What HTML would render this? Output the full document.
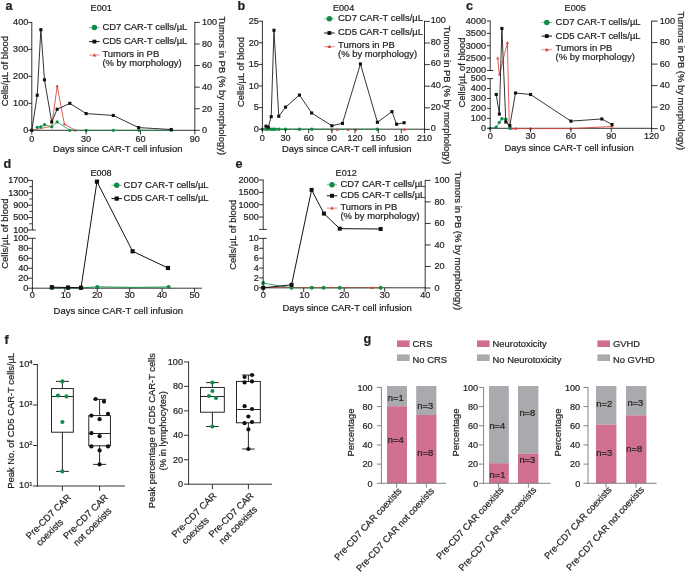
<!DOCTYPE html>
<html lang="en"><head><meta charset="utf-8"><title>Figure</title>
<style>html,body{margin:0;padding:0;background:#fff}svg{display:block}text{font-family:"Liberation Sans",Arial,Helvetica,sans-serif;stroke:#231f20;stroke-width:0.22px}</style></head>
<body>
<svg width="685" height="573" viewBox="0 0 685 573">
<rect x="0" y="0" width="685" height="573" fill="#ffffff"/>
<text x="5.6" y="9.6" font-size="12.6" font-weight="bold" fill="#231f20">a</text>
<text x="90.6" y="11.1" font-size="9.1" fill="#231f20">E001</text>
<line x1="31.4" y1="130.3" x2="195.2" y2="130.3" stroke="#111111" stroke-width="0.85"/>
<polyline points="31.8,130.3 37.23,129.22 40.86,128.68 44.48,127.6 51.72,126.42 57.16,86.06 64.4,124.15 75.27,130.3" fill="none" stroke="#d8433a" stroke-width="0.85" stroke-linejoin="miter"/>
<polygon points="51.72,124.69 50.12,127.57 53.32,127.57" fill="#d8433a"/>
<polygon points="57.16,84.33 55.56,87.21 58.76,87.21" fill="#d8433a"/>
<polygon points="64.4,122.42 62.8,125.3 66,125.3" fill="#d8433a"/>
<polygon points="75.27,128.57 73.67,131.45 76.87,131.45" fill="#d8433a"/>
<polyline points="37.23,127.33 40.86,126.79 44.48,124.64 51.72,126.79 57.16,121.94 69.83,130.3 86.13,130.3 113.3,130.3 138.66,130.3 171.26,130.3" fill="none" stroke="#128c48" stroke-width="0.7" stroke-linejoin="miter"/>
<circle cx="37.23" cy="127.33" r="1.65" fill="#128c48"/>
<circle cx="40.86" cy="126.79" r="1.65" fill="#128c48"/>
<circle cx="44.48" cy="124.64" r="1.65" fill="#128c48"/>
<circle cx="51.72" cy="126.79" r="1.65" fill="#128c48"/>
<circle cx="57.16" cy="121.94" r="1.65" fill="#128c48"/>
<circle cx="69.83" cy="130.3" r="1.65" fill="#128c48"/>
<circle cx="86.13" cy="130.3" r="1.65" fill="#128c48"/>
<circle cx="113.3" cy="130.3" r="1.65" fill="#128c48"/>
<circle cx="138.66" cy="130.3" r="1.65" fill="#128c48"/>
<circle cx="171.26" cy="130.3" r="1.65" fill="#128c48"/>
<polyline points="31.8,130.3 37.23,95.23 40.86,29.68 44.48,79.86 51.72,121.94 57.16,109.26 69.83,103.33 86.13,113.58 113.3,115.46 138.66,127.6 171.26,129.49" fill="none" stroke="#111111" stroke-width="0.85" stroke-linejoin="miter"/>
<rect x="30.25" y="128.75" width="3.1" height="3.1" fill="#111111"/>
<rect x="35.68" y="93.68" width="3.1" height="3.1" fill="#111111"/>
<rect x="39.31" y="28.13" width="3.1" height="3.1" fill="#111111"/>
<rect x="42.93" y="78.31" width="3.1" height="3.1" fill="#111111"/>
<rect x="50.17" y="120.39" width="3.1" height="3.1" fill="#111111"/>
<rect x="55.61" y="107.71" width="3.1" height="3.1" fill="#111111"/>
<rect x="68.28" y="101.78" width="3.1" height="3.1" fill="#111111"/>
<rect x="84.58" y="112.03" width="3.1" height="3.1" fill="#111111"/>
<rect x="111.75" y="113.91" width="3.1" height="3.1" fill="#111111"/>
<rect x="137.11" y="126.05" width="3.1" height="3.1" fill="#111111"/>
<rect x="169.71" y="127.94" width="3.1" height="3.1" fill="#111111"/>
<line x1="31.8" y1="22" x2="31.8" y2="130.7" stroke="#111111" stroke-width="0.85"/>
<line x1="28.2" y1="130.3" x2="31.8" y2="130.3" stroke="#111111" stroke-width="0.85"/>
<text x="28.3" y="133.16" font-size="9.1" text-anchor="end" fill="#231f20">0</text>
<line x1="28.2" y1="103.33" x2="31.8" y2="103.33" stroke="#111111" stroke-width="0.85"/>
<text x="28.3" y="106.18" font-size="9.1" text-anchor="end" fill="#231f20">100</text>
<line x1="28.2" y1="76.35" x2="31.8" y2="76.35" stroke="#111111" stroke-width="0.85"/>
<text x="28.3" y="79.21" font-size="9.1" text-anchor="end" fill="#231f20">200</text>
<line x1="28.2" y1="49.38" x2="31.8" y2="49.38" stroke="#111111" stroke-width="0.85"/>
<text x="28.3" y="52.23" font-size="9.1" text-anchor="end" fill="#231f20">300</text>
<line x1="28.2" y1="22.4" x2="31.8" y2="22.4" stroke="#111111" stroke-width="0.85"/>
<text x="28.3" y="25.26" font-size="9.1" text-anchor="end" fill="#231f20">400</text>
<line x1="31.8" y1="130.3" x2="31.8" y2="134.4" stroke="#111111" stroke-width="0.85"/>
<text x="31.8" y="142.4" font-size="9.1" text-anchor="middle" fill="#231f20">0</text>
<line x1="86.13" y1="130.3" x2="86.13" y2="134.4" stroke="#111111" stroke-width="0.85"/>
<text x="86.13" y="142.4" font-size="9.1" text-anchor="middle" fill="#231f20">30</text>
<line x1="140.47" y1="130.3" x2="140.47" y2="134.4" stroke="#111111" stroke-width="0.85"/>
<text x="140.47" y="142.4" font-size="9.1" text-anchor="middle" fill="#231f20">60</text>
<line x1="194.8" y1="130.3" x2="194.8" y2="134.4" stroke="#111111" stroke-width="0.85"/>
<text x="194.8" y="142.4" font-size="9.1" text-anchor="middle" fill="#231f20">90</text>
<line x1="194.8" y1="22" x2="194.8" y2="130.7" stroke="#111111" stroke-width="0.85"/>
<line x1="194.8" y1="130.3" x2="199.8" y2="130.3" stroke="#111111" stroke-width="0.85"/>
<text x="202" y="133.16" font-size="9.1" fill="#231f20">0</text>
<line x1="194.8" y1="108.72" x2="199.8" y2="108.72" stroke="#111111" stroke-width="0.85"/>
<text x="202" y="111.58" font-size="9.1" fill="#231f20">20</text>
<line x1="194.8" y1="87.14" x2="199.8" y2="87.14" stroke="#111111" stroke-width="0.85"/>
<text x="202" y="90" font-size="9.1" fill="#231f20">40</text>
<line x1="194.8" y1="65.56" x2="199.8" y2="65.56" stroke="#111111" stroke-width="0.85"/>
<text x="202" y="68.42" font-size="9.1" fill="#231f20">60</text>
<line x1="194.8" y1="43.98" x2="199.8" y2="43.98" stroke="#111111" stroke-width="0.85"/>
<text x="202" y="46.84" font-size="9.1" fill="#231f20">80</text>
<line x1="194.8" y1="22.4" x2="199.8" y2="22.4" stroke="#111111" stroke-width="0.85"/>
<text x="202" y="25.26" font-size="9.1" fill="#231f20">100</text>
<text x="53" y="151.7" font-size="9.45" fill="#231f20">Days since CAR-T cell infusion</text>
<text transform="translate(8.3 71.2) rotate(-90)" font-size="9.45" text-anchor="middle" fill="#231f20">Cells/µL of blood</text>
<text transform="translate(219.3 16.4) rotate(90)" font-size="9.45" fill="#231f20">Tumors in PB (% by morphology)</text>
<line x1="89.2" y1="27.6" x2="99.6" y2="27.6" stroke="#128c48" stroke-width="0.8" stroke-opacity="0.7"/>
<circle cx="94.4" cy="27.6" r="2.75" fill="#128c48"/>
<text x="102.4" y="30" font-size="9.45" fill="#231f20">CD7 CAR-T cells/µL</text>
<line x1="89.2" y1="41.6" x2="99.6" y2="41.6" stroke="#111111" stroke-width="1"/>
<rect x="92.5" y="39.7" width="3.8" height="3.8" fill="#111111"/>
<text x="102.4" y="44" font-size="9.45" fill="#231f20">CD5 CAR-T cells/µL</text>
<line x1="89.2" y1="55.1" x2="99.6" y2="55.1" stroke="#d8433a" stroke-width="0.8" stroke-opacity="0.8"/>
<polygon points="94.4,53.15 92.5,56.57 96.3,56.57" fill="#d8433a"/>
<text x="102.4" y="56.6" font-size="9.45" fill="#231f20">Tumors in PB</text>
<text x="102.4" y="66" font-size="9.45" fill="#231f20">(% by morphology)</text>
<text x="237.4" y="9.6" font-size="12.6" font-weight="bold" fill="#231f20">b</text>
<text x="333" y="11" font-size="9.1" fill="#231f20">E004</text>
<line x1="262" y1="129.2" x2="424.9" y2="129.2" stroke="#111111" stroke-width="0.85"/>
<polyline points="262.4,129.2 377.41,129.2" fill="none" stroke="#128c48" stroke-width="0.8" stroke-linejoin="miter"/>
<circle cx="262.4" cy="129.2" r="1.8" fill="#128c48"/>
<circle cx="265.95" cy="129.2" r="1.8" fill="#128c48"/>
<circle cx="268.19" cy="129.2" r="1.8" fill="#128c48"/>
<circle cx="271.2" cy="129.2" r="1.8" fill="#128c48"/>
<circle cx="273.21" cy="129.2" r="1.8" fill="#128c48"/>
<circle cx="275.14" cy="129.2" r="1.8" fill="#128c48"/>
<circle cx="278.76" cy="129.2" r="1.8" fill="#128c48"/>
<circle cx="285.56" cy="129.2" r="1.8" fill="#128c48"/>
<circle cx="299.45" cy="129.2" r="1.8" fill="#128c48"/>
<circle cx="311.8" cy="129.2" r="1.8" fill="#128c48"/>
<circle cx="377.41" cy="129.2" r="1.8" fill="#128c48"/>
<polygon points="331.87,127.87 330.27,130.75 333.47,130.75" fill="#d8433a"/>
<polygon points="337.27,127.87 335.67,130.75 338.87,130.75" fill="#d8433a"/>
<polygon points="348.08,127.87 346.48,130.75 349.68,130.75" fill="#d8433a"/>
<polygon points="355.8,127.87 354.2,130.75 357.4,130.75" fill="#d8433a"/>
<polygon points="404.43,127.87 402.83,130.75 406.03,130.75" fill="#d8433a"/>
<polyline points="265.95,126.18 268.34,127.26 271.2,116.67 273.98,30.27 278.76,116.24 285.56,107.17 299.45,95.07 311.65,113 331.87,125.74 342.45,123.37 360.43,63.97 377.41,122.29 391.93,111.62 396.56,124.23 404.12,122.72" fill="none" stroke="#111111" stroke-width="0.85" stroke-linejoin="miter"/>
<rect x="264.4" y="124.63" width="3.1" height="3.1" fill="#111111"/>
<rect x="266.79" y="125.71" width="3.1" height="3.1" fill="#111111"/>
<rect x="269.65" y="115.12" width="3.1" height="3.1" fill="#111111"/>
<rect x="272.43" y="28.72" width="3.1" height="3.1" fill="#111111"/>
<rect x="277.21" y="114.69" width="3.1" height="3.1" fill="#111111"/>
<rect x="284.01" y="105.62" width="3.1" height="3.1" fill="#111111"/>
<rect x="297.9" y="93.52" width="3.1" height="3.1" fill="#111111"/>
<rect x="310.1" y="111.45" width="3.1" height="3.1" fill="#111111"/>
<rect x="330.32" y="124.19" width="3.1" height="3.1" fill="#111111"/>
<rect x="340.9" y="121.82" width="3.1" height="3.1" fill="#111111"/>
<rect x="358.88" y="62.42" width="3.1" height="3.1" fill="#111111"/>
<rect x="375.86" y="120.74" width="3.1" height="3.1" fill="#111111"/>
<rect x="390.38" y="110.07" width="3.1" height="3.1" fill="#111111"/>
<rect x="395.01" y="122.68" width="3.1" height="3.1" fill="#111111"/>
<rect x="402.57" y="121.17" width="3.1" height="3.1" fill="#111111"/>
<line x1="262.4" y1="20.8" x2="262.4" y2="129.6" stroke="#111111" stroke-width="0.85"/>
<line x1="258.8" y1="129.2" x2="262.4" y2="129.2" stroke="#111111" stroke-width="0.85"/>
<text x="258.9" y="132.06" font-size="9.1" text-anchor="end" fill="#231f20">0</text>
<line x1="258.8" y1="107.6" x2="262.4" y2="107.6" stroke="#111111" stroke-width="0.85"/>
<text x="258.9" y="110.46" font-size="9.1" text-anchor="end" fill="#231f20">5</text>
<line x1="258.8" y1="86" x2="262.4" y2="86" stroke="#111111" stroke-width="0.85"/>
<text x="258.9" y="88.86" font-size="9.1" text-anchor="end" fill="#231f20">10</text>
<line x1="258.8" y1="64.4" x2="262.4" y2="64.4" stroke="#111111" stroke-width="0.85"/>
<text x="258.9" y="67.26" font-size="9.1" text-anchor="end" fill="#231f20">15</text>
<line x1="258.8" y1="42.8" x2="262.4" y2="42.8" stroke="#111111" stroke-width="0.85"/>
<text x="258.9" y="45.66" font-size="9.1" text-anchor="end" fill="#231f20">20</text>
<line x1="258.8" y1="21.2" x2="262.4" y2="21.2" stroke="#111111" stroke-width="0.85"/>
<text x="258.9" y="24.06" font-size="9.1" text-anchor="end" fill="#231f20">25</text>
<line x1="262.4" y1="129.2" x2="262.4" y2="133.3" stroke="#111111" stroke-width="0.85"/>
<text x="262.4" y="141.4" font-size="9.1" text-anchor="middle" fill="#231f20">0</text>
<line x1="285.56" y1="129.2" x2="285.56" y2="133.3" stroke="#111111" stroke-width="0.85"/>
<text x="285.56" y="141.4" font-size="9.1" text-anchor="middle" fill="#231f20">30</text>
<line x1="308.71" y1="129.2" x2="308.71" y2="133.3" stroke="#111111" stroke-width="0.85"/>
<text x="308.71" y="141.4" font-size="9.1" text-anchor="middle" fill="#231f20">60</text>
<line x1="331.87" y1="129.2" x2="331.87" y2="133.3" stroke="#111111" stroke-width="0.85"/>
<text x="331.87" y="141.4" font-size="9.1" text-anchor="middle" fill="#231f20">90</text>
<line x1="355.03" y1="129.2" x2="355.03" y2="133.3" stroke="#111111" stroke-width="0.85"/>
<text x="355.03" y="141.4" font-size="9.1" text-anchor="middle" fill="#231f20">120</text>
<line x1="378.19" y1="129.2" x2="378.19" y2="133.3" stroke="#111111" stroke-width="0.85"/>
<text x="378.19" y="141.4" font-size="9.1" text-anchor="middle" fill="#231f20">150</text>
<line x1="401.34" y1="129.2" x2="401.34" y2="133.3" stroke="#111111" stroke-width="0.85"/>
<text x="401.34" y="141.4" font-size="9.1" text-anchor="middle" fill="#231f20">180</text>
<line x1="424.5" y1="129.2" x2="424.5" y2="133.3" stroke="#111111" stroke-width="0.85"/>
<text x="424.5" y="141.4" font-size="9.1" text-anchor="middle" fill="#231f20">210</text>
<line x1="424.5" y1="20.8" x2="424.5" y2="129.6" stroke="#111111" stroke-width="0.85"/>
<line x1="424.5" y1="129.4" x2="429.9" y2="129.4" stroke="#111111" stroke-width="0.85"/>
<text x="430.7" y="131.26" font-size="9.1" fill="#231f20">0</text>
<line x1="424.5" y1="107.8" x2="429.9" y2="107.8" stroke="#111111" stroke-width="0.85"/>
<text x="430.7" y="109.66" font-size="9.1" fill="#231f20">20</text>
<line x1="424.5" y1="86.2" x2="429.9" y2="86.2" stroke="#111111" stroke-width="0.85"/>
<text x="430.7" y="88.06" font-size="9.1" fill="#231f20">40</text>
<line x1="424.5" y1="64.6" x2="429.9" y2="64.6" stroke="#111111" stroke-width="0.85"/>
<text x="430.7" y="66.46" font-size="9.1" fill="#231f20">60</text>
<line x1="424.5" y1="43" x2="429.9" y2="43" stroke="#111111" stroke-width="0.85"/>
<text x="430.7" y="44.86" font-size="9.1" fill="#231f20">80</text>
<line x1="424.5" y1="21.4" x2="429.9" y2="21.4" stroke="#111111" stroke-width="0.85"/>
<text x="430.7" y="23.26" font-size="9.1" fill="#231f20">100</text>
<text x="282" y="151.8" font-size="9.45" fill="#231f20">Days since CAR-T cell infusion</text>
<text transform="translate(243.6 72) rotate(-90)" font-size="9.45" text-anchor="middle" fill="#231f20">Cells/µL of blood</text>
<text transform="translate(443.7 25.8) rotate(90)" font-size="9.45" fill="#231f20">Tumors in PB (% by morphology)</text>
<line x1="324.2" y1="18.8" x2="334.6" y2="18.8" stroke="#128c48" stroke-width="0.8" stroke-opacity="0.7"/>
<circle cx="329.4" cy="18.8" r="2.75" fill="#128c48"/>
<text x="338" y="21.2" font-size="9.45" fill="#231f20">CD7 CAR-T cells/µL</text>
<line x1="324.2" y1="33" x2="334.6" y2="33" stroke="#111111" stroke-width="1"/>
<rect x="327.5" y="31.1" width="3.8" height="3.8" fill="#111111"/>
<text x="338" y="35.4" font-size="9.45" fill="#231f20">CD5 CAR-T cells/µL</text>
<line x1="324.2" y1="46.6" x2="334.6" y2="46.6" stroke="#d8433a" stroke-width="0.8" stroke-opacity="0.8"/>
<polygon points="329.4,44.65 327.5,48.07 331.3,48.07" fill="#d8433a"/>
<text x="338" y="48.1" font-size="9.45" fill="#231f20">Tumors in PB</text>
<text x="338" y="57.2" font-size="9.45" fill="#231f20">(% by morphology)</text>
<text x="466" y="9.6" font-size="12.6" font-weight="bold" fill="#231f20">c</text>
<text x="564.6" y="10.9" font-size="9.1" fill="#231f20">E005</text>
<line x1="489.8" y1="128.3" x2="652" y2="128.3" stroke="#111111" stroke-width="0.85"/>
<polyline points="497.73,58.19 499.35,74.42 507.42,42.81 509.3,128.6 511.72,128.6 515.75,128.6 530.55,128.6 570.9,128.6 612.06,126.45" fill="none" stroke="#d8433a" stroke-width="0.85" stroke-linejoin="miter"/>
<polygon points="497.73,56.46 496.13,59.34 499.33,59.34" fill="#d8433a"/>
<polygon points="499.35,72.69 497.75,75.57 500.95,75.57" fill="#d8433a"/>
<polygon points="507.42,41.09 505.82,43.97 509.02,43.97" fill="#d8433a"/>
<polygon points="511.72,126.87 510.12,129.75 513.32,129.75" fill="#d8433a"/>
<polygon points="515.75,126.87 514.15,129.75 517.36,129.75" fill="#d8433a"/>
<polygon points="530.55,126.87 528.95,129.75 532.15,129.75" fill="#d8433a"/>
<polygon points="570.9,126.87 569.3,129.75 572.5,129.75" fill="#d8433a"/>
<polygon points="612.06,124.72 610.46,127.6 613.66,127.6" fill="#d8433a"/>
<polyline points="490.2,128.3 496.25,127.11 499.35,122.34 501.9,118.76 505.8,119.16 509.84,128.3" fill="none" stroke="#128c48" stroke-width="0.8" stroke-linejoin="miter"/>
<circle cx="490.2" cy="128.3" r="1.65" fill="#128c48"/>
<circle cx="496.25" cy="127.11" r="1.65" fill="#128c48"/>
<circle cx="499.35" cy="122.34" r="1.65" fill="#128c48"/>
<circle cx="501.9" cy="118.76" r="1.65" fill="#128c48"/>
<circle cx="505.8" cy="119.16" r="1.65" fill="#128c48"/>
<circle cx="509.84" cy="128.3" r="1.65" fill="#128c48"/>
<polyline points="496.25,94.5 499.35,114.09 501.9,28.42 505.8,121.94 509.84,125.62 515.49,93.01 530.55,94.5 570.9,121.14 601.84,118.96 612.06,124.52" fill="none" stroke="#111111" stroke-width="0.85" stroke-linejoin="miter"/>
<rect x="494.7" y="92.95" width="3.1" height="3.1" fill="#111111"/>
<rect x="497.8" y="112.54" width="3.1" height="3.1" fill="#111111"/>
<rect x="500.35" y="26.87" width="3.1" height="3.1" fill="#111111"/>
<rect x="504.25" y="120.39" width="3.1" height="3.1" fill="#111111"/>
<rect x="508.29" y="124.07" width="3.1" height="3.1" fill="#111111"/>
<rect x="513.94" y="91.46" width="3.1" height="3.1" fill="#111111"/>
<rect x="529" y="92.95" width="3.1" height="3.1" fill="#111111"/>
<rect x="569.35" y="119.59" width="3.1" height="3.1" fill="#111111"/>
<rect x="600.29" y="117.41" width="3.1" height="3.1" fill="#111111"/>
<rect x="610.51" y="122.97" width="3.1" height="3.1" fill="#111111"/>
<line x1="490.2" y1="20.6" x2="490.2" y2="70.5" stroke="#111111" stroke-width="0.85"/>
<line x1="490.2" y1="78.6" x2="490.2" y2="128.7" stroke="#111111" stroke-width="0.85"/>
<line x1="487" y1="70.5" x2="493.2" y2="70.5" stroke="#111111" stroke-width="0.85"/>
<text x="486" y="73.36" font-size="9.1" text-anchor="end" fill="#231f20">2000</text>
<line x1="487" y1="58.12" x2="490.2" y2="58.12" stroke="#111111" stroke-width="0.85"/>
<text x="486" y="60.98" font-size="9.1" text-anchor="end" fill="#231f20">2500</text>
<line x1="487" y1="45.75" x2="490.2" y2="45.75" stroke="#111111" stroke-width="0.85"/>
<text x="486" y="48.61" font-size="9.1" text-anchor="end" fill="#231f20">3000</text>
<line x1="487" y1="33.38" x2="490.2" y2="33.38" stroke="#111111" stroke-width="0.85"/>
<text x="486" y="36.23" font-size="9.1" text-anchor="end" fill="#231f20">3500</text>
<line x1="487" y1="21" x2="490.2" y2="21" stroke="#111111" stroke-width="0.85"/>
<text x="486" y="23.86" font-size="9.1" text-anchor="end" fill="#231f20">4000</text>
<line x1="487" y1="128.3" x2="490.2" y2="128.3" stroke="#111111" stroke-width="0.85"/>
<text x="486" y="131.16" font-size="9.1" text-anchor="end" fill="#231f20">0</text>
<line x1="487" y1="118.36" x2="490.2" y2="118.36" stroke="#111111" stroke-width="0.85"/>
<text x="486" y="121.22" font-size="9.1" text-anchor="end" fill="#231f20">100</text>
<line x1="487" y1="108.42" x2="490.2" y2="108.42" stroke="#111111" stroke-width="0.85"/>
<text x="486" y="111.28" font-size="9.1" text-anchor="end" fill="#231f20">200</text>
<line x1="487" y1="98.48" x2="490.2" y2="98.48" stroke="#111111" stroke-width="0.85"/>
<text x="486" y="101.34" font-size="9.1" text-anchor="end" fill="#231f20">300</text>
<line x1="487" y1="88.54" x2="490.2" y2="88.54" stroke="#111111" stroke-width="0.85"/>
<text x="486" y="91.4" font-size="9.1" text-anchor="end" fill="#231f20">400</text>
<line x1="487" y1="78.6" x2="493.2" y2="78.6" stroke="#111111" stroke-width="0.85"/>
<text x="486" y="81.46" font-size="9.1" text-anchor="end" fill="#231f20">500</text>
<line x1="490.2" y1="128.3" x2="490.2" y2="132.3" stroke="#111111" stroke-width="0.85"/>
<text x="490.2" y="139.2" font-size="9.1" text-anchor="middle" fill="#231f20">0</text>
<line x1="530.55" y1="128.3" x2="530.55" y2="132.3" stroke="#111111" stroke-width="0.85"/>
<text x="530.55" y="139.2" font-size="9.1" text-anchor="middle" fill="#231f20">30</text>
<line x1="570.9" y1="128.3" x2="570.9" y2="132.3" stroke="#111111" stroke-width="0.85"/>
<text x="570.9" y="139.2" font-size="9.1" text-anchor="middle" fill="#231f20">60</text>
<line x1="611.25" y1="128.3" x2="611.25" y2="132.3" stroke="#111111" stroke-width="0.85"/>
<text x="611.25" y="139.2" font-size="9.1" text-anchor="middle" fill="#231f20">90</text>
<line x1="651.6" y1="128.3" x2="651.6" y2="132.3" stroke="#111111" stroke-width="0.85"/>
<text x="651.6" y="139.2" font-size="9.1" text-anchor="middle" fill="#231f20">120</text>
<line x1="651.6" y1="20.7" x2="651.6" y2="128.7" stroke="#111111" stroke-width="0.85"/>
<line x1="651.6" y1="128.6" x2="657.6" y2="128.6" stroke="#111111" stroke-width="0.85"/>
<text x="659.8" y="131.46" font-size="9.1" fill="#231f20">0</text>
<line x1="651.6" y1="107.1" x2="657.6" y2="107.1" stroke="#111111" stroke-width="0.85"/>
<text x="659.8" y="109.96" font-size="9.1" fill="#231f20">20</text>
<line x1="651.6" y1="85.6" x2="657.6" y2="85.6" stroke="#111111" stroke-width="0.85"/>
<text x="659.8" y="88.46" font-size="9.1" fill="#231f20">40</text>
<line x1="651.6" y1="64.1" x2="657.6" y2="64.1" stroke="#111111" stroke-width="0.85"/>
<text x="659.8" y="66.96" font-size="9.1" fill="#231f20">60</text>
<line x1="651.6" y1="42.6" x2="657.6" y2="42.6" stroke="#111111" stroke-width="0.85"/>
<text x="659.8" y="45.46" font-size="9.1" fill="#231f20">80</text>
<line x1="651.6" y1="21.1" x2="657.6" y2="21.1" stroke="#111111" stroke-width="0.85"/>
<text x="659.8" y="23.96" font-size="9.1" fill="#231f20">100</text>
<text x="504.4" y="151" font-size="9.45" fill="#231f20">Days since CAR-T cell infusion</text>
<text transform="translate(465 72.5) rotate(-90)" font-size="9.45" text-anchor="middle" fill="#231f20">Cells/µL of blood</text>
<text transform="translate(677.9 11.4) rotate(90)" font-size="9.45" fill="#231f20">Tumors in PB (% by morphology)</text>
<line x1="541.6" y1="22.4" x2="552" y2="22.4" stroke="#128c48" stroke-width="0.8" stroke-opacity="0.7"/>
<circle cx="546.8" cy="22.4" r="2.75" fill="#128c48"/>
<text x="555.6" y="24.8" font-size="9.45" fill="#231f20">CD7 CAR-T cells/µL</text>
<line x1="541.6" y1="36.1" x2="552" y2="36.1" stroke="#111111" stroke-width="1"/>
<rect x="544.9" y="34.2" width="3.8" height="3.8" fill="#111111"/>
<text x="555.6" y="38.5" font-size="9.45" fill="#231f20">CD5 CAR-T cells/µL</text>
<line x1="541.6" y1="49.7" x2="552" y2="49.7" stroke="#d8433a" stroke-width="0.8" stroke-opacity="0.8"/>
<polygon points="546.8,47.75 544.9,51.17 548.7,51.17" fill="#d8433a"/>
<text x="555.6" y="51.2" font-size="9.45" fill="#231f20">Tumors in PB</text>
<text x="555.6" y="60.4" font-size="9.45" fill="#231f20">(% by morphology)</text>
<text x="3.4" y="167.5" font-size="12.6" font-weight="bold" fill="#231f20">d</text>
<text x="90.4" y="175.6" font-size="9.1" fill="#231f20">E008</text>
<line x1="32" y1="288.2" x2="202" y2="288.2" stroke="#111111" stroke-width="0.85"/>
<polyline points="51.86,287.9 68.07,287.9 81.04,287.9 97.26,286.9 132.93,287.4 168.61,287" fill="none" stroke="#128c48" stroke-width="1" stroke-linejoin="miter"/>
<circle cx="51.86" cy="287.9" r="2" fill="#128c48"/>
<circle cx="68.07" cy="287.9" r="2" fill="#128c48"/>
<circle cx="81.04" cy="287.9" r="2" fill="#128c48"/>
<circle cx="97.26" cy="286.9" r="2" fill="#128c48"/>
<circle cx="168.61" cy="287" r="2" fill="#128c48"/>
<polyline points="51.86,287.2 68.07,287.5 81.04,287.7 96.94,181.64 132.61,251.27 167.96,267.99" fill="none" stroke="#111111" stroke-width="1" stroke-linejoin="miter"/>
<rect x="49.76" y="285.1" width="4.2" height="4.2" fill="#111111"/>
<rect x="65.97" y="285.4" width="4.2" height="4.2" fill="#111111"/>
<rect x="78.94" y="285.6" width="4.2" height="4.2" fill="#111111"/>
<rect x="94.84" y="179.54" width="4.2" height="4.2" fill="#111111"/>
<rect x="130.51" y="249.17" width="4.2" height="4.2" fill="#111111"/>
<rect x="165.86" y="265.89" width="4.2" height="4.2" fill="#111111"/>
<line x1="32.4" y1="180" x2="32.4" y2="230" stroke="#111111" stroke-width="0.85"/>
<line x1="32.4" y1="238.3" x2="32.4" y2="288.6" stroke="#111111" stroke-width="0.85"/>
<line x1="27.8" y1="230" x2="35.8" y2="230" stroke="#111111" stroke-width="0.85"/>
<text x="28.4" y="232.86" font-size="9.1" text-anchor="end" fill="#231f20">100</text>
<line x1="29.3" y1="223.8" x2="32.4" y2="223.8" stroke="#111111" stroke-width="0.85"/>
<line x1="27.8" y1="217.6" x2="32.4" y2="217.6" stroke="#111111" stroke-width="0.85"/>
<text x="28.4" y="220.46" font-size="9.1" text-anchor="end" fill="#231f20">500</text>
<line x1="29.3" y1="211.4" x2="32.4" y2="211.4" stroke="#111111" stroke-width="0.85"/>
<line x1="27.8" y1="205.2" x2="32.4" y2="205.2" stroke="#111111" stroke-width="0.85"/>
<text x="28.4" y="208.06" font-size="9.1" text-anchor="end" fill="#231f20">900</text>
<line x1="29.3" y1="199" x2="32.4" y2="199" stroke="#111111" stroke-width="0.85"/>
<line x1="27.8" y1="192.8" x2="32.4" y2="192.8" stroke="#111111" stroke-width="0.85"/>
<text x="28.4" y="195.66" font-size="9.1" text-anchor="end" fill="#231f20">1300</text>
<line x1="29.3" y1="186.6" x2="32.4" y2="186.6" stroke="#111111" stroke-width="0.85"/>
<line x1="27.8" y1="180.4" x2="32.4" y2="180.4" stroke="#111111" stroke-width="0.85"/>
<text x="28.4" y="183.26" font-size="9.1" text-anchor="end" fill="#231f20">1700</text>
<line x1="27.8" y1="288.2" x2="32.4" y2="288.2" stroke="#111111" stroke-width="0.85"/>
<text x="28.4" y="291.06" font-size="9.1" text-anchor="end" fill="#231f20">0</text>
<line x1="27.8" y1="278.22" x2="32.4" y2="278.22" stroke="#111111" stroke-width="0.85"/>
<text x="28.4" y="281.08" font-size="9.1" text-anchor="end" fill="#231f20">20</text>
<line x1="27.8" y1="268.24" x2="32.4" y2="268.24" stroke="#111111" stroke-width="0.85"/>
<text x="28.4" y="271.1" font-size="9.1" text-anchor="end" fill="#231f20">40</text>
<line x1="27.8" y1="258.26" x2="32.4" y2="258.26" stroke="#111111" stroke-width="0.85"/>
<text x="28.4" y="261.12" font-size="9.1" text-anchor="end" fill="#231f20">60</text>
<line x1="27.8" y1="248.28" x2="32.4" y2="248.28" stroke="#111111" stroke-width="0.85"/>
<text x="28.4" y="251.14" font-size="9.1" text-anchor="end" fill="#231f20">80</text>
<line x1="27.8" y1="238.3" x2="35.8" y2="238.3" stroke="#111111" stroke-width="0.85"/>
<text x="28.4" y="241.16" font-size="9.1" text-anchor="end" fill="#231f20">100</text>
<line x1="32.4" y1="288.2" x2="32.4" y2="292.3" stroke="#111111" stroke-width="0.85"/>
<text x="32.4" y="298.3" font-size="9.1" text-anchor="middle" fill="#231f20">0</text>
<line x1="64.83" y1="288.2" x2="64.83" y2="292.3" stroke="#111111" stroke-width="0.85"/>
<text x="65.83" y="298.3" font-size="9.1" text-anchor="middle" fill="#231f20">10</text>
<line x1="97.26" y1="288.2" x2="97.26" y2="292.3" stroke="#111111" stroke-width="0.85"/>
<text x="97.26" y="298.3" font-size="9.1" text-anchor="middle" fill="#231f20">20</text>
<line x1="129.69" y1="288.2" x2="129.69" y2="292.3" stroke="#111111" stroke-width="0.85"/>
<text x="129.69" y="298.3" font-size="9.1" text-anchor="middle" fill="#231f20">30</text>
<line x1="162.12" y1="288.2" x2="162.12" y2="292.3" stroke="#111111" stroke-width="0.85"/>
<text x="162.12" y="298.3" font-size="9.1" text-anchor="middle" fill="#231f20">40</text>
<line x1="194.55" y1="288.2" x2="194.55" y2="292.3" stroke="#111111" stroke-width="0.85"/>
<text x="194.55" y="298.3" font-size="9.1" text-anchor="middle" fill="#231f20">50</text>
<text x="53.6" y="314" font-size="9.45" fill="#231f20">Days since CAR-T cell infusion</text>
<text transform="translate(8 233.7) rotate(-90)" font-size="9.45" text-anchor="middle" fill="#231f20">Cells/µL of blood</text>
<line x1="111.5" y1="185.3" x2="121.9" y2="185.3" stroke="#128c48" stroke-width="0.8" stroke-opacity="0.7"/>
<circle cx="116.7" cy="185.3" r="2.75" fill="#128c48"/>
<text x="123.6" y="187.7" font-size="9.45" fill="#231f20">CD7 CAR-T cells/µL</text>
<line x1="111.5" y1="198.6" x2="121.9" y2="198.6" stroke="#111111" stroke-width="1"/>
<rect x="114.6" y="196.5" width="4.2" height="4.2" fill="#111111"/>
<text x="123.6" y="201" font-size="9.45" fill="#231f20">CD5 CAR-T cells/µL</text>
<text x="235.5" y="168" font-size="12.6" font-weight="bold" fill="#231f20">e</text>
<text x="335.6" y="175.6" font-size="9.1" fill="#231f20">E012</text>
<line x1="262.8" y1="287.8" x2="425.6" y2="287.8" stroke="#111111" stroke-width="0.85"/>
<polyline points="263.2,283.11 291.55,287.8 311.8,287.8 323.54,287.8 339.75,287.8 380.65,287.8" fill="none" stroke="#128c48" stroke-width="0.8" stroke-linejoin="miter"/>
<polyline points="263.2,287.6 380.65,287.6" fill="none" stroke="#d8433a" stroke-width="0.8" stroke-linejoin="miter" stroke-opacity="0.75"/>
<polygon points="372.14,285.96 370.44,289.02 373.84,289.02" fill="#d8433a"/>
<circle cx="263.2" cy="283.11" r="2" fill="#128c48"/>
<circle cx="291.55" cy="287.8" r="2" fill="#128c48"/>
<circle cx="311.8" cy="287.8" r="2" fill="#128c48"/>
<circle cx="323.54" cy="287.8" r="2" fill="#128c48"/>
<circle cx="339.75" cy="287.8" r="2" fill="#128c48"/>
<circle cx="380.65" cy="287.8" r="2" fill="#128c48"/>
<polyline points="263.2,287.8 291.55,284.84 311.6,189.88 323.95,213.59 339.75,228.66 380.65,229" fill="none" stroke="#111111" stroke-width="1" stroke-linejoin="miter"/>
<rect x="261.2" y="285.8" width="4" height="4" fill="#111111"/>
<rect x="289.55" y="282.84" width="4" height="4" fill="#111111"/>
<rect x="309.6" y="187.88" width="4" height="4" fill="#111111"/>
<rect x="321.95" y="211.59" width="4" height="4" fill="#111111"/>
<rect x="337.75" y="226.66" width="4" height="4" fill="#111111"/>
<rect x="378.65" y="227" width="4" height="4" fill="#111111"/>
<line x1="263.2" y1="179.6" x2="263.2" y2="229.4" stroke="#111111" stroke-width="0.85"/>
<line x1="263.2" y1="238.4" x2="263.2" y2="288.2" stroke="#111111" stroke-width="0.85"/>
<line x1="259" y1="217.05" x2="263.2" y2="217.05" stroke="#111111" stroke-width="0.85"/>
<text x="258.8" y="219.91" font-size="9.1" text-anchor="end" fill="#231f20">500</text>
<line x1="259" y1="204.7" x2="263.2" y2="204.7" stroke="#111111" stroke-width="0.85"/>
<text x="258.8" y="207.56" font-size="9.1" text-anchor="end" fill="#231f20">1000</text>
<line x1="259" y1="192.35" x2="263.2" y2="192.35" stroke="#111111" stroke-width="0.85"/>
<text x="258.8" y="195.21" font-size="9.1" text-anchor="end" fill="#231f20">1500</text>
<line x1="259" y1="180" x2="263.2" y2="180" stroke="#111111" stroke-width="0.85"/>
<text x="258.8" y="182.86" font-size="9.1" text-anchor="end" fill="#231f20">2000</text>
<line x1="259" y1="229.4" x2="266.8" y2="229.4" stroke="#111111" stroke-width="0.85"/>
<line x1="259" y1="287.8" x2="263.2" y2="287.8" stroke="#111111" stroke-width="0.85"/>
<text x="258.8" y="290.66" font-size="9.1" text-anchor="end" fill="#231f20">0</text>
<line x1="259" y1="277.92" x2="263.2" y2="277.92" stroke="#111111" stroke-width="0.85"/>
<text x="258.8" y="280.78" font-size="9.1" text-anchor="end" fill="#231f20">2</text>
<line x1="259" y1="268.04" x2="263.2" y2="268.04" stroke="#111111" stroke-width="0.85"/>
<text x="258.8" y="270.9" font-size="9.1" text-anchor="end" fill="#231f20">4</text>
<line x1="259" y1="258.16" x2="263.2" y2="258.16" stroke="#111111" stroke-width="0.85"/>
<text x="258.8" y="261.02" font-size="9.1" text-anchor="end" fill="#231f20">6</text>
<line x1="259" y1="248.28" x2="263.2" y2="248.28" stroke="#111111" stroke-width="0.85"/>
<text x="258.8" y="251.14" font-size="9.1" text-anchor="end" fill="#231f20">8</text>
<line x1="259" y1="238.4" x2="266.8" y2="238.4" stroke="#111111" stroke-width="0.85"/>
<text x="258.8" y="241.26" font-size="9.1" text-anchor="end" fill="#231f20">10</text>
<line x1="263.2" y1="287.8" x2="263.2" y2="291.9" stroke="#111111" stroke-width="0.85"/>
<text x="263.2" y="298.4" font-size="9.1" text-anchor="middle" fill="#231f20">0</text>
<line x1="303.7" y1="287.8" x2="303.7" y2="291.9" stroke="#111111" stroke-width="0.85"/>
<text x="304.4" y="298.4" font-size="9.1" text-anchor="middle" fill="#231f20">10</text>
<line x1="344.2" y1="287.8" x2="344.2" y2="291.9" stroke="#111111" stroke-width="0.85"/>
<text x="344.2" y="298.4" font-size="9.1" text-anchor="middle" fill="#231f20">20</text>
<line x1="384.7" y1="287.8" x2="384.7" y2="291.9" stroke="#111111" stroke-width="0.85"/>
<text x="384.7" y="298.4" font-size="9.1" text-anchor="middle" fill="#231f20">30</text>
<line x1="425.2" y1="287.8" x2="425.2" y2="291.9" stroke="#111111" stroke-width="0.85"/>
<text x="425.2" y="298.4" font-size="9.1" text-anchor="middle" fill="#231f20">40</text>
<line x1="425.2" y1="180" x2="425.2" y2="288.4" stroke="#111111" stroke-width="0.85"/>
<line x1="425.2" y1="288" x2="430.6" y2="288" stroke="#111111" stroke-width="0.85"/>
<text x="434.4" y="290.86" font-size="9.1" fill="#231f20">0</text>
<line x1="425.2" y1="266.48" x2="430.6" y2="266.48" stroke="#111111" stroke-width="0.85"/>
<text x="434.4" y="269.34" font-size="9.1" fill="#231f20">20</text>
<line x1="425.2" y1="244.96" x2="430.6" y2="244.96" stroke="#111111" stroke-width="0.85"/>
<text x="434.4" y="247.82" font-size="9.1" fill="#231f20">40</text>
<line x1="425.2" y1="223.44" x2="430.6" y2="223.44" stroke="#111111" stroke-width="0.85"/>
<text x="434.4" y="226.3" font-size="9.1" fill="#231f20">60</text>
<line x1="425.2" y1="201.92" x2="430.6" y2="201.92" stroke="#111111" stroke-width="0.85"/>
<text x="434.4" y="204.78" font-size="9.1" fill="#231f20">80</text>
<line x1="425.2" y1="180.4" x2="430.6" y2="180.4" stroke="#111111" stroke-width="0.85"/>
<text x="434.4" y="183.26" font-size="9.1" fill="#231f20">100</text>
<text x="282.4" y="310.8" font-size="9.45" fill="#231f20">Days since CAR-T cell infusion</text>
<text transform="translate(236.4 234.8) rotate(-90)" font-size="9.45" text-anchor="middle" fill="#231f20">Cells/µL of blood</text>
<text transform="translate(454.9 171.4) rotate(90)" font-size="9.45" fill="#231f20">Tumors in PB (% by morphology)</text>
<line x1="326.8" y1="184.8" x2="337.2" y2="184.8" stroke="#128c48" stroke-width="0.8" stroke-opacity="0.7"/>
<circle cx="332" cy="184.8" r="2.7" fill="#128c48"/>
<text x="340.4" y="187.2" font-size="9.45" fill="#231f20">CD7 CAR-T cells/µL</text>
<line x1="326.8" y1="195.8" x2="337.2" y2="195.8" stroke="#111111" stroke-width="1"/>
<rect x="330" y="193.8" width="4" height="4" fill="#111111"/>
<text x="340.4" y="198.2" font-size="9.45" fill="#231f20">CD5 CAR-T cells/µL</text>
<line x1="326.8" y1="208.1" x2="337.2" y2="208.1" stroke="#d8433a" stroke-width="0.8" stroke-opacity="0.8"/>
<polygon points="332,206.15 330.1,209.57 333.9,209.57" fill="#d8433a"/>
<text x="340.4" y="209.6" font-size="9.45" fill="#231f20">Tumors in PB</text>
<text x="340.4" y="218.6" font-size="9.45" fill="#231f20">(% by morphology)</text>
<text x="4.4" y="343.5" font-size="12.6" font-weight="bold" fill="#231f20">f</text>
<line x1="37.4" y1="364.1" x2="37.4" y2="486.4" stroke="#111111" stroke-width="0.85"/>
<line x1="37" y1="486" x2="125" y2="486" stroke="#111111" stroke-width="0.85"/>
<line x1="33" y1="486" x2="37.4" y2="486" stroke="#111111" stroke-width="0.85"/>
<text x="32.4" y="488.16" font-size="9.1" text-anchor="end" fill="#231f20">10<tspan font-size="5.7" dy="-2.6">1</tspan></text>
<line x1="33" y1="445.5" x2="37.4" y2="445.5" stroke="#111111" stroke-width="0.85"/>
<text x="32.4" y="447.66" font-size="9.1" text-anchor="end" fill="#231f20">10<tspan font-size="5.7" dy="-2.6">2</tspan></text>
<line x1="33" y1="405" x2="37.4" y2="405" stroke="#111111" stroke-width="0.85"/>
<text x="32.4" y="407.16" font-size="9.1" text-anchor="end" fill="#231f20">10<tspan font-size="5.7" dy="-2.6">3</tspan></text>
<line x1="33" y1="364.5" x2="37.4" y2="364.5" stroke="#111111" stroke-width="0.85"/>
<text x="32.4" y="366.66" font-size="9.1" text-anchor="end" fill="#231f20">10<tspan font-size="5.7" dy="-2.6">4</tspan></text>
<line x1="62.4" y1="486" x2="62.4" y2="491" stroke="#111111" stroke-width="0.85"/>
<line x1="99.6" y1="486" x2="99.6" y2="491" stroke="#111111" stroke-width="0.85"/>
<rect x="51.5" y="388.6" width="21.8" height="43.6" fill="none" stroke="#111111" stroke-width="0.9"/>
<line x1="51.5" y1="396.5" x2="73.3" y2="396.5" stroke="#111111" stroke-width="0.9"/>
<line x1="62.4" y1="388.6" x2="62.4" y2="381.4" stroke="#111111" stroke-width="0.9"/>
<line x1="62.4" y1="432.2" x2="62.4" y2="471.4" stroke="#111111" stroke-width="0.9"/>
<line x1="55.9" y1="381.4" x2="68.9" y2="381.4" stroke="#111111" stroke-width="0.9"/>
<line x1="55.9" y1="471.4" x2="68.9" y2="471.4" stroke="#111111" stroke-width="0.9"/>
<circle cx="62.4" cy="381.4" r="2.1" fill="#128c48"/>
<circle cx="58" cy="395.6" r="2.1" fill="#128c48"/>
<circle cx="66.4" cy="396.4" r="2.1" fill="#128c48"/>
<circle cx="62.4" cy="422" r="2.1" fill="#128c48"/>
<circle cx="62.4" cy="471.4" r="2.1" fill="#128c48"/>
<rect x="88.8" y="415.6" width="21.6" height="30.2" fill="none" stroke="#111111" stroke-width="0.9"/>
<line x1="88.8" y1="433.5" x2="110.4" y2="433.5" stroke="#111111" stroke-width="0.9"/>
<line x1="99.6" y1="415.6" x2="99.6" y2="399.4" stroke="#111111" stroke-width="0.9"/>
<line x1="99.6" y1="445.8" x2="99.6" y2="464.4" stroke="#111111" stroke-width="0.9"/>
<line x1="93.1" y1="399.4" x2="106.1" y2="399.4" stroke="#111111" stroke-width="0.9"/>
<line x1="93.1" y1="464.4" x2="106.1" y2="464.4" stroke="#111111" stroke-width="0.9"/>
<circle cx="95.6" cy="399" r="2.1" fill="#111111"/>
<circle cx="104" cy="401.6" r="2.1" fill="#111111"/>
<circle cx="91.4" cy="415.6" r="2.1" fill="#111111"/>
<circle cx="108" cy="413.8" r="2.1" fill="#111111"/>
<circle cx="99.6" cy="419.2" r="2.1" fill="#111111"/>
<circle cx="91.4" cy="433.2" r="2.1" fill="#111111"/>
<circle cx="99.6" cy="436.2" r="2.1" fill="#111111"/>
<circle cx="91.4" cy="446.4" r="2.1" fill="#111111"/>
<circle cx="108" cy="446.4" r="2.1" fill="#111111"/>
<circle cx="99.6" cy="450.4" r="2.1" fill="#111111"/>
<circle cx="99.6" cy="464.4" r="2.1" fill="#111111"/>
<text transform="translate(14.2 420.8) rotate(-90)" font-size="9.4" text-anchor="middle" fill="#231f20">Peak No. of CD5 CAR-T cells/µL</text>
<g transform="translate(29.8 539.7) rotate(-45)" font-size="9.4" fill="#231f20">
<text x="0" y="0">Pre-CD7 CAR</text>
<text x="2.3" y="12">coexists</text>
</g>
<g transform="translate(67 539.7) rotate(-45)" font-size="9.4" fill="#231f20">
<text x="0" y="0">Pre-CD7 CAR</text>
<text x="2.3" y="12">not coexists</text>
</g>
<line x1="188.6" y1="361.55" x2="188.6" y2="484.6" stroke="#111111" stroke-width="0.85"/>
<line x1="188.2" y1="484.2" x2="272" y2="484.2" stroke="#111111" stroke-width="0.85"/>
<line x1="184" y1="484.2" x2="188.6" y2="484.2" stroke="#111111" stroke-width="0.85"/>
<text x="183" y="487.06" font-size="9.1" text-anchor="end" fill="#231f20">0</text>
<line x1="184" y1="459.75" x2="188.6" y2="459.75" stroke="#111111" stroke-width="0.85"/>
<text x="183" y="462.61" font-size="9.1" text-anchor="end" fill="#231f20">20</text>
<line x1="184" y1="435.3" x2="188.6" y2="435.3" stroke="#111111" stroke-width="0.85"/>
<text x="183" y="438.16" font-size="9.1" text-anchor="end" fill="#231f20">40</text>
<line x1="184" y1="410.85" x2="188.6" y2="410.85" stroke="#111111" stroke-width="0.85"/>
<text x="183" y="413.71" font-size="9.1" text-anchor="end" fill="#231f20">60</text>
<line x1="184" y1="386.4" x2="188.6" y2="386.4" stroke="#111111" stroke-width="0.85"/>
<text x="183" y="389.26" font-size="9.1" text-anchor="end" fill="#231f20">80</text>
<line x1="184" y1="361.95" x2="188.6" y2="361.95" stroke="#111111" stroke-width="0.85"/>
<text x="183" y="364.81" font-size="9.1" text-anchor="end" fill="#231f20">100</text>
<line x1="212.4" y1="484.2" x2="212.4" y2="489.2" stroke="#111111" stroke-width="0.85"/>
<line x1="248.4" y1="484.2" x2="248.4" y2="489.2" stroke="#111111" stroke-width="0.85"/>
<rect x="200.5" y="387.4" width="23.8" height="24.8" fill="none" stroke="#111111" stroke-width="0.9"/>
<line x1="200.5" y1="396.5" x2="224.3" y2="396.5" stroke="#111111" stroke-width="0.9"/>
<line x1="212.4" y1="387.4" x2="212.4" y2="382.6" stroke="#111111" stroke-width="0.9"/>
<line x1="212.4" y1="412.2" x2="212.4" y2="426.5" stroke="#111111" stroke-width="0.9"/>
<line x1="206.1" y1="382.6" x2="218.7" y2="382.6" stroke="#111111" stroke-width="0.9"/>
<line x1="206.1" y1="426.5" x2="218.7" y2="426.5" stroke="#111111" stroke-width="0.9"/>
<circle cx="212.4" cy="382.6" r="2.1" fill="#128c48"/>
<circle cx="212.4" cy="391" r="2.1" fill="#128c48"/>
<circle cx="209" cy="396" r="2.1" fill="#128c48"/>
<circle cx="216" cy="398" r="2.1" fill="#128c48"/>
<circle cx="212.4" cy="426.5" r="2.1" fill="#128c48"/>
<rect x="236.5" y="381.4" width="23.8" height="41.4" fill="none" stroke="#111111" stroke-width="0.9"/>
<line x1="236.5" y1="409.5" x2="260.3" y2="409.5" stroke="#111111" stroke-width="0.9"/>
<line x1="248.4" y1="381.4" x2="248.4" y2="375" stroke="#111111" stroke-width="0.9"/>
<line x1="248.4" y1="422.8" x2="248.4" y2="449" stroke="#111111" stroke-width="0.9"/>
<line x1="242.1" y1="375" x2="254.7" y2="375" stroke="#111111" stroke-width="0.9"/>
<line x1="242.1" y1="449" x2="254.7" y2="449" stroke="#111111" stroke-width="0.9"/>
<circle cx="244.6" cy="377" r="2.1" fill="#111111"/>
<circle cx="252" cy="375" r="2.1" fill="#111111"/>
<circle cx="244.6" cy="382.4" r="2.1" fill="#111111"/>
<circle cx="252" cy="381.4" r="2.1" fill="#111111"/>
<circle cx="244.6" cy="406.2" r="2.1" fill="#111111"/>
<circle cx="252" cy="409" r="2.1" fill="#111111"/>
<circle cx="248.4" cy="416.5" r="2.1" fill="#111111"/>
<circle cx="244.6" cy="423.2" r="2.1" fill="#111111"/>
<circle cx="252" cy="422" r="2.1" fill="#111111"/>
<circle cx="248.4" cy="429.4" r="2.1" fill="#111111"/>
<circle cx="248.4" cy="449" r="2.1" fill="#111111"/>
<text transform="translate(154.8 430.6) rotate(-90)" font-size="9.4" text-anchor="middle" fill="#231f20">Peak percentage of CD5 CAR-T cells</text>
<text transform="translate(165.6 430.8) rotate(-90)" font-size="9.4" text-anchor="middle" fill="#231f20">(% in lymphocytes)</text>
<g transform="translate(175.4 538) rotate(-45)" font-size="9.4" fill="#231f20">
<text x="0" y="0">Pre-CD7 CAR</text>
<text x="2.3" y="12">coexists</text>
</g>
<g transform="translate(212.6 538) rotate(-45)" font-size="9.4" fill="#231f20">
<text x="0" y="0">Pre-CD7 CAR</text>
<text x="2.3" y="12">not coexists</text>
</g>
<text x="363.6" y="342.7" font-size="12.6" font-weight="bold" fill="#231f20">g</text>
<rect x="387" y="386" width="20" height="20.2" fill="#a8aaad"/>
<rect x="387" y="406.2" width="20" height="77.1" fill="#d16f92"/>
<rect x="416.2" y="386" width="20.2" height="29" fill="#a8aaad"/>
<rect x="416.2" y="415" width="20.2" height="68.3" fill="#d16f92"/>
<line x1="381.4" y1="387" x2="381.4" y2="483.7" stroke="#747679" stroke-width="0.9"/>
<line x1="381" y1="483.3" x2="446" y2="483.3" stroke="#747679" stroke-width="0.9"/>
<line x1="376.8" y1="483.3" x2="381.4" y2="483.3" stroke="#747679" stroke-width="0.9"/>
<text x="372.6" y="486.56" font-size="9.1" text-anchor="end" fill="#231f20">0</text>
<line x1="376.8" y1="464.12" x2="381.4" y2="464.12" stroke="#747679" stroke-width="0.9"/>
<text x="372.6" y="467.38" font-size="9.1" text-anchor="end" fill="#231f20">20</text>
<line x1="376.8" y1="444.94" x2="381.4" y2="444.94" stroke="#747679" stroke-width="0.9"/>
<text x="372.6" y="448.2" font-size="9.1" text-anchor="end" fill="#231f20">40</text>
<line x1="376.8" y1="425.76" x2="381.4" y2="425.76" stroke="#747679" stroke-width="0.9"/>
<text x="372.6" y="429.02" font-size="9.1" text-anchor="end" fill="#231f20">60</text>
<line x1="376.8" y1="406.58" x2="381.4" y2="406.58" stroke="#747679" stroke-width="0.9"/>
<text x="372.6" y="409.84" font-size="9.1" text-anchor="end" fill="#231f20">80</text>
<line x1="376.8" y1="387.4" x2="381.4" y2="387.4" stroke="#747679" stroke-width="0.9"/>
<text x="372.6" y="390.66" font-size="9.1" text-anchor="end" fill="#231f20">100</text>
<line x1="396.6" y1="483.3" x2="396.6" y2="487.7" stroke="#747679" stroke-width="0.9"/>
<line x1="426.4" y1="483.3" x2="426.4" y2="487.7" stroke="#747679" stroke-width="0.9"/>
<text x="387.8" y="401" font-size="9.4" fill="#231f20">n=1</text>
<text x="417.2" y="409" font-size="9.4" fill="#231f20">n=3</text>
<text x="387.8" y="443" font-size="9.4" fill="#231f20">n=4</text>
<text x="417.2" y="456" font-size="9.4" fill="#231f20">n=8</text>
<rect x="397" y="340.4" width="12.6" height="6.6" fill="#d16f92"/>
<rect x="397" y="354.4" width="12.6" height="6.6" fill="#a8aaad"/>
<text x="412.6" y="347.4" font-size="9.4" fill="#231f20">CRS</text>
<text x="412.6" y="362.6" font-size="9.4" fill="#231f20">No CRS</text>
<text transform="translate(353.6 432.5) rotate(-90)" font-size="9.4" text-anchor="middle" fill="#231f20">Percentage</text>
<text transform="translate(402.2 491.2) rotate(-47.5)" font-size="9.3" text-anchor="end" fill="#231f20">Pre-CD7 CAR coexists</text>
<text transform="translate(434.6 491.2) rotate(-47.5)" font-size="9.3" text-anchor="end" fill="#231f20">Pre-CD7 CAR not coexists</text>
<rect x="489" y="386" width="19.8" height="77.2" fill="#a8aaad"/>
<rect x="489" y="463.2" width="19.8" height="20.1" fill="#d16f92"/>
<rect x="518" y="386" width="20.4" height="67.8" fill="#a8aaad"/>
<rect x="518" y="453.8" width="20.4" height="29.5" fill="#d16f92"/>
<line x1="483.6" y1="387" x2="483.6" y2="483.7" stroke="#747679" stroke-width="0.9"/>
<line x1="483.2" y1="483.3" x2="550.6" y2="483.3" stroke="#747679" stroke-width="0.9"/>
<line x1="479" y1="483.3" x2="483.6" y2="483.3" stroke="#747679" stroke-width="0.9"/>
<text x="478.2" y="486.56" font-size="9.1" text-anchor="end" fill="#231f20">0</text>
<line x1="479" y1="464.12" x2="483.6" y2="464.12" stroke="#747679" stroke-width="0.9"/>
<text x="478.2" y="467.38" font-size="9.1" text-anchor="end" fill="#231f20">20</text>
<line x1="479" y1="444.94" x2="483.6" y2="444.94" stroke="#747679" stroke-width="0.9"/>
<text x="478.2" y="448.2" font-size="9.1" text-anchor="end" fill="#231f20">40</text>
<line x1="479" y1="425.76" x2="483.6" y2="425.76" stroke="#747679" stroke-width="0.9"/>
<text x="478.2" y="429.02" font-size="9.1" text-anchor="end" fill="#231f20">60</text>
<line x1="479" y1="406.58" x2="483.6" y2="406.58" stroke="#747679" stroke-width="0.9"/>
<text x="478.2" y="409.84" font-size="9.1" text-anchor="end" fill="#231f20">80</text>
<line x1="479" y1="387.4" x2="483.6" y2="387.4" stroke="#747679" stroke-width="0.9"/>
<text x="478.2" y="390.66" font-size="9.1" text-anchor="end" fill="#231f20">100</text>
<line x1="498.6" y1="483.3" x2="498.6" y2="487.7" stroke="#747679" stroke-width="0.9"/>
<line x1="528.4" y1="483.3" x2="528.4" y2="487.7" stroke="#747679" stroke-width="0.9"/>
<text x="489.4" y="428.8" font-size="9.4" fill="#231f20">n=4</text>
<text x="519.4" y="415.5" font-size="9.4" fill="#231f20">n=8</text>
<text x="489.6" y="478.4" font-size="9.4" fill="#231f20">n=1</text>
<text x="519.4" y="463.4" font-size="9.4" fill="#231f20">n=3</text>
<rect x="477" y="340.4" width="12.6" height="6.6" fill="#d16f92"/>
<rect x="477" y="354.4" width="12.6" height="6.6" fill="#a8aaad"/>
<text x="492.6" y="347.4" font-size="9.4" fill="#231f20">Neurotoxicity</text>
<text x="492.6" y="362.6" font-size="9.4" fill="#231f20">No Neurotoxicity</text>
<text transform="translate(458.6 432.5) rotate(-90)" font-size="9.4" text-anchor="middle" fill="#231f20">Percentage</text>
<text transform="translate(504.2 490.4) rotate(-47.5)" font-size="9.3" text-anchor="end" fill="#231f20">Pre-CD7 CAR coexists</text>
<text transform="translate(536.8 490.4) rotate(-47.5)" font-size="9.3" text-anchor="end" fill="#231f20">Pre-CD7 CAR not coexists</text>
<rect x="596" y="386" width="20.4" height="38.6" fill="#a8aaad"/>
<rect x="596" y="424.6" width="20.4" height="58.7" fill="#d16f92"/>
<rect x="626" y="386" width="20.4" height="29.4" fill="#a8aaad"/>
<rect x="626" y="415.4" width="20.4" height="67.9" fill="#d16f92"/>
<line x1="588" y1="387" x2="588" y2="483.7" stroke="#747679" stroke-width="0.9"/>
<line x1="587.6" y1="483.3" x2="656.6" y2="483.3" stroke="#747679" stroke-width="0.9"/>
<line x1="583.4" y1="483.3" x2="588" y2="483.3" stroke="#747679" stroke-width="0.9"/>
<text x="580.2" y="486.56" font-size="9.1" text-anchor="end" fill="#231f20">0</text>
<line x1="583.4" y1="464.12" x2="588" y2="464.12" stroke="#747679" stroke-width="0.9"/>
<text x="580.2" y="467.38" font-size="9.1" text-anchor="end" fill="#231f20">20</text>
<line x1="583.4" y1="444.94" x2="588" y2="444.94" stroke="#747679" stroke-width="0.9"/>
<text x="580.2" y="448.2" font-size="9.1" text-anchor="end" fill="#231f20">40</text>
<line x1="583.4" y1="425.76" x2="588" y2="425.76" stroke="#747679" stroke-width="0.9"/>
<text x="580.2" y="429.02" font-size="9.1" text-anchor="end" fill="#231f20">60</text>
<line x1="583.4" y1="406.58" x2="588" y2="406.58" stroke="#747679" stroke-width="0.9"/>
<text x="580.2" y="409.84" font-size="9.1" text-anchor="end" fill="#231f20">80</text>
<line x1="583.4" y1="387.4" x2="588" y2="387.4" stroke="#747679" stroke-width="0.9"/>
<text x="580.2" y="390.66" font-size="9.1" text-anchor="end" fill="#231f20">100</text>
<line x1="606" y1="483.3" x2="606" y2="487.7" stroke="#747679" stroke-width="0.9"/>
<line x1="636" y1="483.3" x2="636" y2="487.7" stroke="#747679" stroke-width="0.9"/>
<text x="596.2" y="407.4" font-size="9.4" fill="#231f20">n=2</text>
<text x="627.4" y="406.4" font-size="9.4" fill="#231f20">n=3</text>
<text x="596.2" y="456" font-size="9.4" fill="#231f20">n=3</text>
<text x="626.2" y="452" font-size="9.4" fill="#231f20">n=8</text>
<rect x="597.4" y="340.4" width="12.6" height="6.6" fill="#d16f92"/>
<rect x="597.4" y="354.4" width="12.6" height="6.6" fill="#a8aaad"/>
<text x="613" y="347.4" font-size="9.4" fill="#231f20">GVHD</text>
<text x="613" y="362.6" font-size="9.4" fill="#231f20">No GVHD</text>
<text transform="translate(560.6 432.5) rotate(-90)" font-size="9.4" text-anchor="middle" fill="#231f20">Percentage</text>
<text transform="translate(612.2 490) rotate(-47.5)" font-size="9.3" text-anchor="end" fill="#231f20">Pre-CD7 CAR coexists</text>
<text transform="translate(644.6 490) rotate(-47.5)" font-size="9.3" text-anchor="end" fill="#231f20">Pre-CD7 CAR not coexists</text>
</svg>
</body></html>
